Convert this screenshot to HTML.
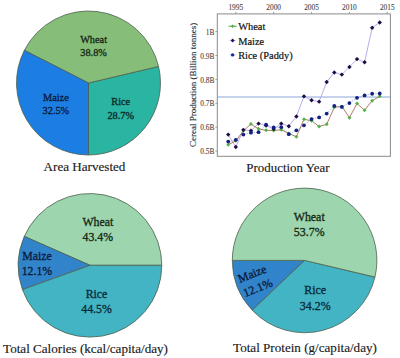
<!DOCTYPE html>
<html><head><meta charset="utf-8"><style>
html,body{margin:0;padding:0;background:#fff;width:400px;height:358px;overflow:hidden;}
svg{display:block;font-family:"Liberation Serif",serif;}
</style></head><body>
<svg width="400" height="358" viewBox="0 0 400 358" font-family="'Liberation Serif', serif"><path d="M88.50,83.00 L88.50,155.00 A72.00,72.00 0 0 0 158.56,66.41 Z" fill="#2ab4a2" stroke="#4d5f4d" stroke-width="0.8" stroke-linejoin="round"/><path d="M88.50,83.00 L158.56,66.41 A72.00,72.00 0 0 0 24.35,50.31 Z" fill="#86be79" stroke="#4d5f4d" stroke-width="0.8" stroke-linejoin="round"/><path d="M88.50,83.00 L24.35,50.31 A72.00,72.00 0 0 0 88.50,155.00 Z" fill="#1c7ee2" stroke="#4d5f4d" stroke-width="0.8" stroke-linejoin="round"/><path d="M90.00,265.30 L161.80,265.30 A71.80,71.80 0 0 0 24.29,236.37 Z" fill="#9dd5ae" stroke="#4d5f4d" stroke-width="0.8" stroke-linejoin="round"/><path d="M90.00,265.30 L24.29,236.37 A71.80,71.80 0 0 0 22.44,289.62 Z" fill="#3284ca" stroke="#4d5f4d" stroke-width="0.8" stroke-linejoin="round"/><path d="M90.00,265.30 L22.44,289.62 A71.80,71.80 0 0 0 161.80,265.30 Z" fill="#42b4c4" stroke="#4d5f4d" stroke-width="0.8" stroke-linejoin="round"/><path d="M304.60,260.40 L232.30,260.40 A72.30,72.30 0 0 0 252.21,310.22 Z" fill="#3284ca" stroke="#4d5f4d" stroke-width="0.8" stroke-linejoin="round"/><path d="M304.60,260.40 L252.21,310.22 A72.30,72.30 0 0 0 374.96,277.06 Z" fill="#42b4c4" stroke="#4d5f4d" stroke-width="0.8" stroke-linejoin="round"/><path d="M304.60,260.40 L374.96,277.06 A72.30,72.30 0 1 0 232.30,260.40 Z" fill="#9dd5ae" stroke="#4d5f4d" stroke-width="0.8" stroke-linejoin="round"/><rect x="217.3" y="13.9" width="173.10" height="142.40" fill="#fff" stroke="#8a8a8a" stroke-width="1"/><line x1="217.3" x2="390.4" y1="97.0" y2="97.0" stroke="#8aa6d8" stroke-width="1.0"/><line x1="215.3" x2="217.3" y1="31.60" y2="31.60" stroke="#8a8a8a" stroke-width="0.8"/><text x="214.4" y="34.70" font-size="7.4" fill="#484848" stroke="#484848" stroke-width="0.1" text-anchor="end">1B</text><line x1="215.3" x2="217.3" y1="55.50" y2="55.50" stroke="#8a8a8a" stroke-width="0.8"/><text x="214.4" y="58.60" font-size="7.4" fill="#484848" stroke="#484848" stroke-width="0.1" text-anchor="end">0.9B</text><line x1="215.3" x2="217.3" y1="79.40" y2="79.40" stroke="#8a8a8a" stroke-width="0.8"/><text x="214.4" y="82.50" font-size="7.4" fill="#484848" stroke="#484848" stroke-width="0.1" text-anchor="end">0.8B</text><line x1="215.3" x2="217.3" y1="103.30" y2="103.30" stroke="#8a8a8a" stroke-width="0.8"/><text x="214.4" y="106.40" font-size="7.4" fill="#484848" stroke="#484848" stroke-width="0.1" text-anchor="end">0.7B</text><line x1="215.3" x2="217.3" y1="127.20" y2="127.20" stroke="#8a8a8a" stroke-width="0.8"/><text x="214.4" y="130.30" font-size="7.4" fill="#484848" stroke="#484848" stroke-width="0.1" text-anchor="end">0.6B</text><line x1="215.3" x2="217.3" y1="151.10" y2="151.10" stroke="#8a8a8a" stroke-width="0.8"/><text x="214.4" y="154.20" font-size="7.4" fill="#484848" stroke="#484848" stroke-width="0.1" text-anchor="end">0.5B</text><line x1="235.80" x2="235.80" y1="11.9" y2="13.9" stroke="#8a8a8a" stroke-width="0.8"/><text x="235.80" y="9.9" font-size="7.4" fill="#484848" stroke="#484848" stroke-width="0.1" text-anchor="middle">1995</text><line x1="273.68" x2="273.68" y1="11.9" y2="13.9" stroke="#8a8a8a" stroke-width="0.8"/><text x="273.68" y="9.9" font-size="7.4" fill="#484848" stroke="#484848" stroke-width="0.1" text-anchor="middle">2000</text><line x1="311.55" x2="311.55" y1="11.9" y2="13.9" stroke="#8a8a8a" stroke-width="0.8"/><text x="311.55" y="9.9" font-size="7.4" fill="#484848" stroke="#484848" stroke-width="0.1" text-anchor="middle">2005</text><line x1="349.43" x2="349.43" y1="11.9" y2="13.9" stroke="#8a8a8a" stroke-width="0.8"/><text x="349.43" y="9.9" font-size="7.4" fill="#484848" stroke="#484848" stroke-width="0.1" text-anchor="middle">2010</text><line x1="387.30" x2="387.30" y1="11.9" y2="13.9" stroke="#8a8a8a" stroke-width="0.8"/><text x="387.30" y="9.9" font-size="7.4" fill="#484848" stroke="#484848" stroke-width="0.1" text-anchor="middle">2015</text><polyline points="228.23,141.54 235.80,139.87 243.38,134.61 250.95,132.70 258.53,132.22 266.10,124.57 273.68,127.44 281.25,127.20 288.82,134.13 296.40,130.31 303.98,125.29 311.55,119.07 319.12,117.40 326.70,113.58 334.28,105.93 341.85,106.88 349.43,103.06 357.00,97.80 364.58,95.41 372.15,93.74 379.73,93.50" fill="none" stroke="#9fb4ea" stroke-width="0.9" stroke-dasharray="1.5,1"/><polyline points="228.23,134.61 235.80,147.04 243.38,129.83 250.95,130.78 258.53,123.61 266.10,125.53 273.68,129.11 281.25,123.61 288.82,126.24 296.40,116.44 303.98,96.37 311.55,100.19 319.12,101.63 326.70,82.03 334.28,72.47 341.85,74.62 349.43,66.97 357.00,59.08 364.58,62.19 372.15,27.78 379.73,22.52" fill="none" stroke="#b4a2e6" stroke-width="0.9"/><polyline points="228.23,144.65 235.80,140.82 243.38,130.78 250.95,124.09 258.53,128.87 266.10,130.31 273.68,130.55 281.25,129.83 288.82,133.41 296.40,136.76 303.98,119.31 311.55,120.75 319.12,126.48 326.70,124.33 334.28,107.36 341.85,106.41 349.43,117.64 357.00,103.54 364.58,110.23 372.15,100.67 379.73,96.37" fill="none" stroke="#a0644a" stroke-width="0.85"/><path d="M228.23,142.65 L230.23,144.65 L228.23,146.65 L226.23,144.65 Z" fill="#55b048"/><path d="M235.80,138.82 L237.80,140.82 L235.80,142.82 L233.80,140.82 Z" fill="#55b048"/><path d="M243.38,128.78 L245.38,130.78 L243.38,132.78 L241.38,130.78 Z" fill="#55b048"/><path d="M250.95,122.09 L252.95,124.09 L250.95,126.09 L248.95,124.09 Z" fill="#55b048"/><path d="M258.53,126.87 L260.53,128.87 L258.53,130.87 L256.53,128.87 Z" fill="#55b048"/><path d="M266.10,128.31 L268.10,130.31 L266.10,132.31 L264.10,130.31 Z" fill="#55b048"/><path d="M273.68,128.55 L275.68,130.55 L273.68,132.55 L271.68,130.55 Z" fill="#55b048"/><path d="M281.25,127.83 L283.25,129.83 L281.25,131.83 L279.25,129.83 Z" fill="#55b048"/><path d="M288.82,131.41 L290.82,133.41 L288.82,135.41 L286.82,133.41 Z" fill="#55b048"/><path d="M296.40,134.76 L298.40,136.76 L296.40,138.76 L294.40,136.76 Z" fill="#55b048"/><path d="M303.98,117.31 L305.98,119.31 L303.98,121.31 L301.98,119.31 Z" fill="#55b048"/><path d="M311.55,118.75 L313.55,120.75 L311.55,122.75 L309.55,120.75 Z" fill="#55b048"/><path d="M319.12,124.48 L321.12,126.48 L319.12,128.48 L317.12,126.48 Z" fill="#55b048"/><path d="M326.70,122.33 L328.70,124.33 L326.70,126.33 L324.70,124.33 Z" fill="#55b048"/><path d="M334.28,105.36 L336.28,107.36 L334.28,109.36 L332.28,107.36 Z" fill="#55b048"/><path d="M341.85,104.41 L343.85,106.41 L341.85,108.41 L339.85,106.41 Z" fill="#55b048"/><path d="M349.43,115.64 L351.43,117.64 L349.43,119.64 L347.43,117.64 Z" fill="#55b048"/><path d="M357.00,101.54 L359.00,103.54 L357.00,105.54 L355.00,103.54 Z" fill="#55b048"/><path d="M364.58,108.23 L366.58,110.23 L364.58,112.23 L362.58,110.23 Z" fill="#55b048"/><path d="M372.15,98.67 L374.15,100.67 L372.15,102.67 L370.15,100.67 Z" fill="#55b048"/><path d="M379.73,94.37 L381.73,96.37 L379.73,98.37 L377.73,96.37 Z" fill="#55b048"/><path d="M228.23,132.41 L230.43,134.61 L228.23,136.81 L226.03,134.61 Z" fill="#1e0c44"/><path d="M235.80,144.84 L238.00,147.04 L235.80,149.24 L233.60,147.04 Z" fill="#1e0c44"/><path d="M243.38,127.63 L245.57,129.83 L243.38,132.03 L241.18,129.83 Z" fill="#1e0c44"/><path d="M250.95,128.59 L253.15,130.78 L250.95,132.98 L248.75,130.78 Z" fill="#1e0c44"/><path d="M258.53,121.41 L260.73,123.61 L258.53,125.81 L256.33,123.61 Z" fill="#1e0c44"/><path d="M266.10,123.33 L268.30,125.53 L266.10,127.73 L263.90,125.53 Z" fill="#1e0c44"/><path d="M273.68,126.91 L275.88,129.11 L273.68,131.31 L271.48,129.11 Z" fill="#1e0c44"/><path d="M281.25,121.41 L283.45,123.61 L281.25,125.81 L279.05,123.61 Z" fill="#1e0c44"/><path d="M288.82,124.04 L291.02,126.24 L288.82,128.44 L286.62,126.24 Z" fill="#1e0c44"/><path d="M296.40,114.24 L298.60,116.44 L296.40,118.64 L294.20,116.44 Z" fill="#1e0c44"/><path d="M303.98,94.17 L306.18,96.37 L303.98,98.57 L301.78,96.37 Z" fill="#1e0c44"/><path d="M311.55,97.99 L313.75,100.19 L311.55,102.39 L309.35,100.19 Z" fill="#1e0c44"/><path d="M319.12,99.43 L321.32,101.63 L319.12,103.83 L316.93,101.63 Z" fill="#1e0c44"/><path d="M326.70,79.83 L328.90,82.03 L326.70,84.23 L324.50,82.03 Z" fill="#1e0c44"/><path d="M334.28,70.27 L336.48,72.47 L334.28,74.67 L332.08,72.47 Z" fill="#1e0c44"/><path d="M341.85,72.42 L344.05,74.62 L341.85,76.82 L339.65,74.62 Z" fill="#1e0c44"/><path d="M349.43,64.77 L351.62,66.97 L349.43,69.17 L347.23,66.97 Z" fill="#1e0c44"/><path d="M357.00,56.88 L359.20,59.08 L357.00,61.28 L354.80,59.08 Z" fill="#1e0c44"/><path d="M364.58,59.99 L366.78,62.19 L364.58,64.39 L362.38,62.19 Z" fill="#1e0c44"/><path d="M372.15,25.58 L374.35,27.78 L372.15,29.98 L369.95,27.78 Z" fill="#1e0c44"/><path d="M379.73,20.32 L381.93,22.52 L379.73,24.72 L377.53,22.52 Z" fill="#1e0c44"/><circle cx="228.23" cy="141.54" r="1.9" fill="#142080"/><circle cx="235.80" cy="139.87" r="1.9" fill="#142080"/><circle cx="243.38" cy="134.61" r="1.9" fill="#142080"/><circle cx="250.95" cy="132.70" r="1.9" fill="#142080"/><circle cx="258.53" cy="132.22" r="1.9" fill="#142080"/><circle cx="266.10" cy="124.57" r="1.9" fill="#142080"/><circle cx="273.68" cy="127.44" r="1.9" fill="#142080"/><circle cx="281.25" cy="127.20" r="1.9" fill="#142080"/><circle cx="288.82" cy="134.13" r="1.9" fill="#142080"/><circle cx="296.40" cy="130.31" r="1.9" fill="#142080"/><circle cx="303.98" cy="125.29" r="1.9" fill="#142080"/><circle cx="311.55" cy="119.07" r="1.9" fill="#142080"/><circle cx="319.12" cy="117.40" r="1.9" fill="#142080"/><circle cx="326.70" cy="113.58" r="1.9" fill="#142080"/><circle cx="334.28" cy="105.93" r="1.9" fill="#142080"/><circle cx="341.85" cy="106.88" r="1.9" fill="#142080"/><circle cx="349.43" cy="103.06" r="1.9" fill="#142080"/><circle cx="357.00" cy="97.80" r="1.9" fill="#142080"/><circle cx="364.58" cy="95.41" r="1.9" fill="#142080"/><circle cx="372.15" cy="93.74" r="1.9" fill="#142080"/><circle cx="379.73" cy="93.50" r="1.9" fill="#142080"/><line x1="228.4" x2="236.7" y1="26.2" y2="26.2" stroke="#66b866" stroke-width="1.2"/><path d="M232.6,24.4 L234.4,26.2 L232.6,28 L230.8,26.2Z" fill="#55b048"/><line x1="229.5" x2="235.7" y1="40.6" y2="40.6" stroke="#c8b8f0" stroke-width="0.9"/><path d="M232.6,38.6 L234.6,40.6 L232.6,42.6 L230.6,40.6Z" fill="#2a1260"/><line x1="229.5" x2="235.7" y1="54.9" y2="54.9" stroke="#b8c8f0" stroke-width="0.9"/><circle cx="232.6" cy="54.9" r="1.7" fill="#14289a"/><text x="238.2" y="30.2" font-size="10.4" fill="#111" stroke="#111" stroke-width="0.2">Wheat</text><text x="238.2" y="44.7" font-size="10.4" fill="#111" stroke="#111" stroke-width="0.2">Maize</text><text x="238.2" y="59.1" font-size="10.4" fill="#111" stroke="#111" stroke-width="0.2">Rice (Paddy)</text><text transform="translate(196.2,84.9) rotate(-90)" font-size="9.0" fill="#2e2e2e" stroke="#2e2e2e" stroke-width="0.12" text-anchor="middle">Cereal Production (Billion tonnes)</text><text font-size="10.3" fill="#142814" stroke="#142814" stroke-width="0.3" text-anchor="middle"><tspan x="93.6" y="43.1">Wheat</tspan><tspan x="93.6" y="56.25">38.8%</tspan></text><text font-size="10.3" fill="#0a1a3a" stroke="#0a1a3a" stroke-width="0.3" text-anchor="middle"><tspan x="55.9" y="100.65">Maize</tspan><tspan x="55.9" y="113.5">32.5%</tspan></text><text font-size="10.3" fill="#0a2a2a" stroke="#0a2a2a" stroke-width="0.3" text-anchor="middle"><tspan x="120.75" y="105.0">Rice</tspan><tspan x="120.75" y="118.5">28.7%</tspan></text><text font-size="11.8" fill="#142814" stroke="#142814" stroke-width="0.3" text-anchor="middle"><tspan x="97.8" y="226.0">Wheat</tspan><tspan x="97.8" y="241.25">43.4%</tspan></text><text font-size="11.8" fill="#0a1a3a" stroke="#0a1a3a" stroke-width="0.3" text-anchor="middle"><tspan x="36.9" y="260.0">Maize</tspan><tspan x="36.9" y="275.0">12.1%</tspan></text><text font-size="11.8" fill="#0a2a3a" stroke="#0a2a3a" stroke-width="0.3" text-anchor="middle"><tspan x="96.5" y="297.5">Rice</tspan><tspan x="96.5" y="312.75">44.5%</tspan></text><text font-size="11.9" fill="#142814" stroke="#142814" stroke-width="0.3" text-anchor="middle"><tspan x="309.2" y="221.0">Wheat</tspan><tspan x="309.2" y="236.25">53.7%</tspan></text><text font-size="11.9" fill="#0a2a3a" stroke="#0a2a3a" stroke-width="0.3" text-anchor="middle"><tspan x="315.2" y="294.25">Rice</tspan><tspan x="315.2" y="309.7">34.2%</tspan></text><g transform="translate(254.8,280.4) rotate(-21.78)"><text font-size="11.9" fill="#0a1a3a" stroke="#0a1a3a" stroke-width="0.3" text-anchor="middle"><tspan x="0" y="-3.2">Maize</tspan><tspan x="0" y="12">12.1%</tspan></text></g><text x="84.5" y="171.2" font-size="13.1" fill="#1a1a1a" stroke="#1a1a1a" stroke-width="0.15" text-anchor="middle">Area Harvested</text><text x="287.9" y="171.6" font-size="12.9" fill="#1a1a1a" stroke="#1a1a1a" stroke-width="0.15" text-anchor="middle">Production Year</text><text x="85.5" y="352.6" font-size="13.1" fill="#1a1a1a" stroke="#1a1a1a" stroke-width="0.15" text-anchor="middle">Total Calories (kcal/capita/day)</text><text x="305" y="352.3" font-size="13.1" fill="#1a1a1a" stroke="#1a1a1a" stroke-width="0.15" text-anchor="middle">Total Protein (g/capita/day)</text></svg>
</body></html>
